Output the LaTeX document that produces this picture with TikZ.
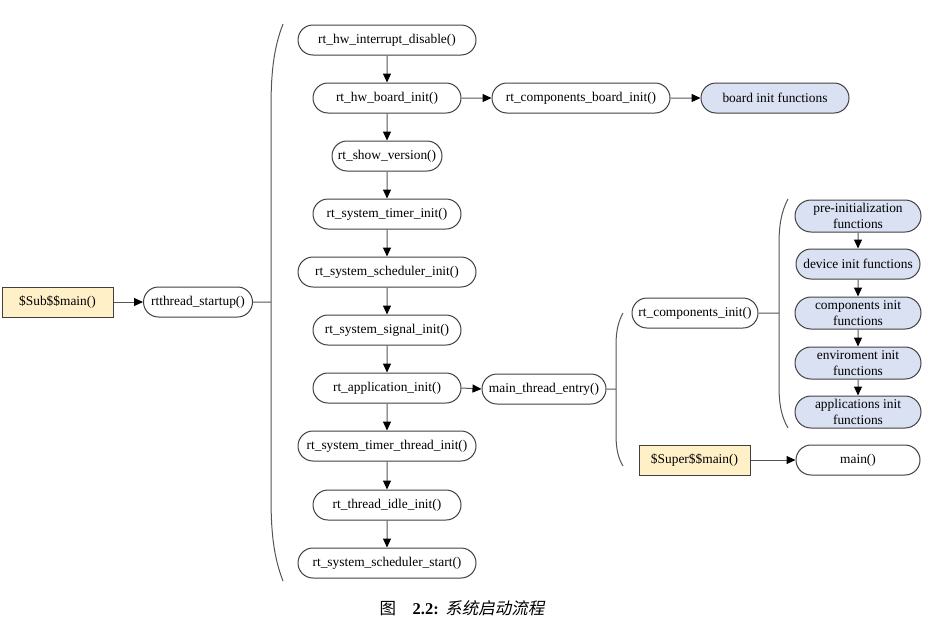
\documentclass[tikz,border=0pt]{standalone}
\usepackage{fontspec}
\setmainfont{Liberation Serif}
\newfontfamily\cjk{Noto Sans CJK SC}
\newfontfamily\cjkit[FakeSlant=0.2]{Noto Sans CJK SC}
\usetikzlibrary{shapes.misc,arrows.meta}
\definecolor{edgegray}{HTML}{555555}
\definecolor{bordergray}{HTML}{404040}
\definecolor{yelfill}{HTML}{FFF0C8}
\definecolor{bluefill}{HTML}{DAE1F3}
\begin{document}
\begin{tikzpicture}[x=1pt,y=-1pt,
  fn/.style={rounded rectangle,draw=bordergray,line width=1pt,fill=white,minimum height=30pt,inner sep=1pt,font=\fontsize{13.4}{15.5}\selectfont},
  bl/.style={fn,fill=bluefill,align=center},
  yel/.style={rectangle,draw=bordergray,line width=1pt,fill=yelfill,minimum height=30pt,inner sep=1pt,font=\fontsize{13.4}{15.5}\selectfont},
  arr/.style={draw=edgegray,line width=1pt,-{Triangle[length=9pt,width=8pt,fill=black,color=black]}},
  ln/.style={draw=edgegray,line width=1pt},
  brk/.style={draw=edgegray,line width=1pt}]
\useasboundingbox (0,0) rectangle (934,624);
% left
\node[yel,minimum width=111pt] (sub) at (57.5,302) {\$Sub\$\$main()};
\node[fn,minimum width=111pt] (start) at (198,302) {rtthread\_startup()};
% main column
\node[fn,minimum width=180pt] (n1) at (387,40) {rt\_hw\_interrupt\_disable()};
\node[fn,minimum width=150pt] (n2) at (387,98) {rt\_hw\_board\_init()};
\node[fn,minimum width=112pt] (n3) at (387,156) {rt\_show\_version()};
\node[fn,minimum width=150pt] (n4) at (387,214) {rt\_system\_timer\_init()};
\node[fn,minimum width=180pt] (n5) at (387,272) {rt\_system\_scheduler\_init()};
\node[fn,minimum width=150pt] (n6) at (387,330) {rt\_system\_signal\_init()};
\node[fn,minimum width=150pt] (n7) at (387,388) {rt\_application\_init()};
\node[fn,minimum width=180pt] (n8) at (387,446) {rt\_system\_timer\_thread\_init()};
\node[fn,minimum width=150pt] (n9) at (387,505) {rt\_thread\_idle\_init()};
\node[fn,minimum width=180pt] (n10) at (387,563) {rt\_system\_scheduler\_start()};
% board init
\node[fn,minimum width=180pt] (cbi) at (581,98) {rt\_components\_board\_init()};
\node[bl,minimum width=150pt] (bif) at (775,98) {board init functions};
% main thread
\node[fn,minimum width=126pt] (mte) at (544,389) {main\_thread\_entry()};
\node[fn,minimum width=128pt] (ci) at (695,313) {rt\_components\_init()};
\node[yel,minimum width=111pt] (sup) at (694.5,460) {\$Super\$\$main()};
\node[fn,minimum width=126pt] (mainf) at (858,460) {main()};
% right column
\node[bl,minimum width=126pt,minimum height=32pt,inner sep=0pt] (r1) at (858,216) {pre-initialization\\functions};
\node[bl,minimum width=126pt] (r2) at (858,264) {device init functions};
\node[bl,minimum width=126pt,minimum height=32pt,inner sep=0pt] (r3) at (858,313) {components init\\functions};
\node[bl,minimum width=126pt,minimum height=32pt,inner sep=0pt] (r4) at (858,363) {enviroment init\\functions};
\node[bl,minimum width=126pt,minimum height=32pt,inner sep=0pt] (r5) at (858,412) {applications init\\functions};
% brackets
\coordinate (b1) at (271,302);
\draw[brk] (283,24) .. controls (273,50) and (271,75) .. (271,110) -- (271,495) .. controls (271,530) and (273,555) .. (283,581);
\coordinate (b2) at (616,389);
\draw[brk] (623,313) .. controls (618,322) and (616,332) .. (616,345) -- (616,435) .. controls (616,448) and (618,458) .. (623,466);
\coordinate (b3) at (779,313);
\draw[brk] (788,199) .. controls (781,212) and (779,226) .. (779,245) -- (779,385) .. controls (779,403) and (781,416) .. (788,428);
% connectors
\draw[arr] (sub) -- (start);
\draw[ln] (start) -- (b1);
\draw[arr] (n1) -- (n2);
\draw[arr] (n2) -- (n3);
\draw[arr] (n3) -- (n4);
\draw[arr] (n4) -- (n5);
\draw[arr] (n5) -- (n6);
\draw[arr] (n6) -- (n7);
\draw[arr] (n7) -- (n8);
\draw[arr] (n8) -- (n9);
\draw[arr] (n9) -- (n10);
\draw[arr] (n2) -- (cbi);
\draw[arr] (cbi) -- (bif);
\draw[arr] (n7.east) -- (mte.west);
\draw[ln] (mte) -- (b2);
\draw[ln] (ci) -- (b3);
\draw[arr] (sup) -- (mainf);
\draw[arr] (r1) -- (r2);
\draw[arr] (r2) -- (r3);
\draw[arr] (r3) -- (r4);
\draw[arr] (r4) -- (r5);
% caption
\node[font=\fontsize{16.5}{19}\selectfont] (cap) at (462,608) {{\cjk 图}\quad\textbf{2.2:}\hspace{0.4em}{\cjkit 系统启动流程}};
\end{tikzpicture}
\end{document}
